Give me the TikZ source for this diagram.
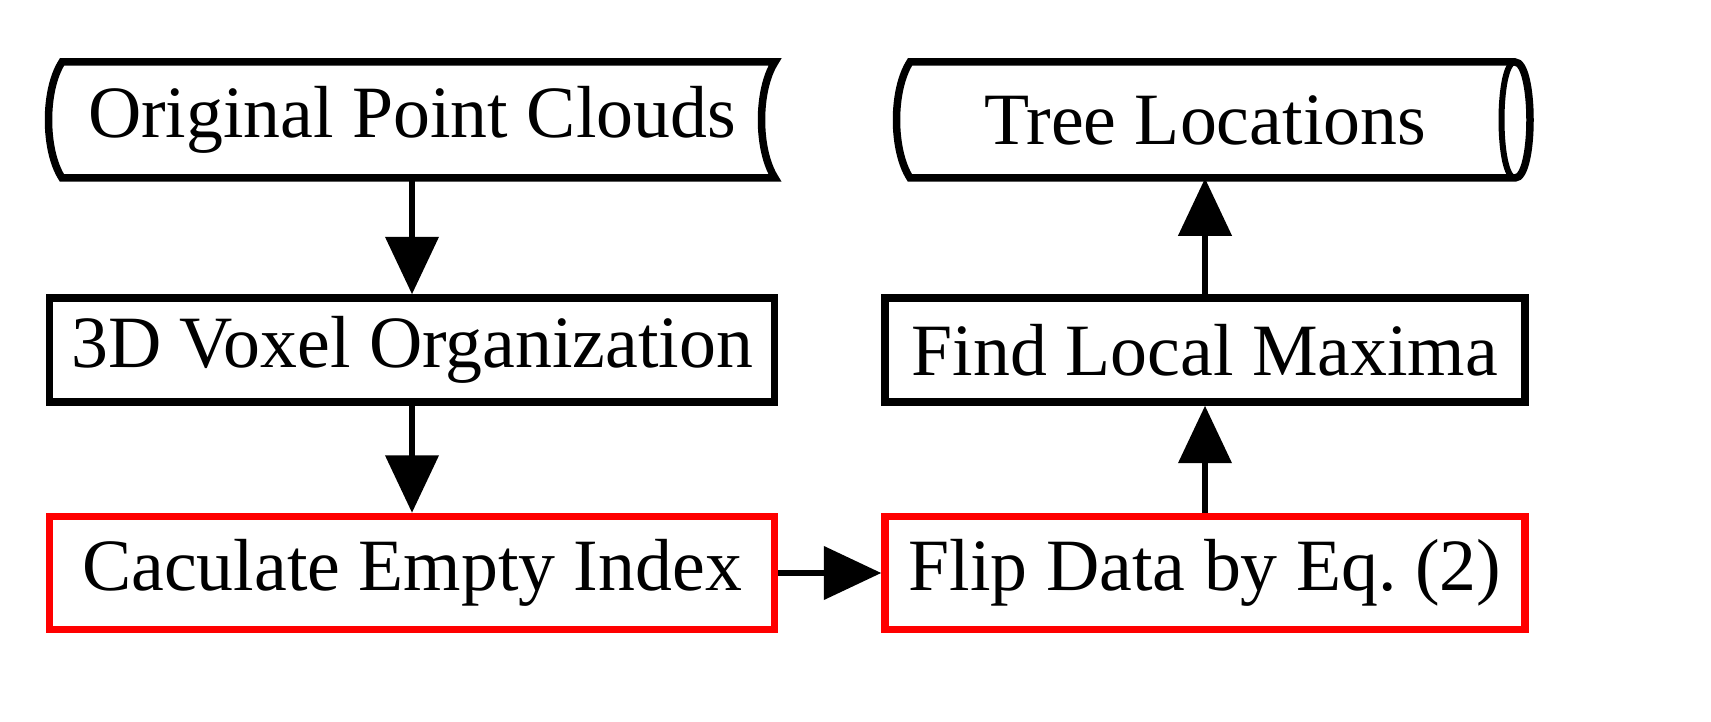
\documentclass[tikz,border=0pt]{standalone}
\usepackage{fontspec}
\setmainfont{Liberation Serif}
\usetikzlibrary{arrows.meta}
\begin{document}
\begin{tikzpicture}[x=0.02cm,y=-0.02cm,
  lbl/.style={font=\fontsize{42}{46}\selectfont, inner sep=0pt},
  boxk/.style={lbl, draw=black, line width=0.15cm, minimum width=14.5cm, minimum height=2.08cm},
  boxr/.style={lbl, draw=red, line width=0.15cm, minimum height=2.26cm},
  conn/.style={line width=0.12cm, -{Triangle[length=1.15cm,width=1.05cm]}}]
% top-left stored data
\node[lbl, minimum width=14.5cm, minimum height=2.32cm] (opc) at (412,120) {Original Point Clouds};
\draw[line width=0.15cm] (62,62) -- (775,62) .. controls (757,90) and (757,150) .. (775,178) -- (62,178) .. controls (44,150) and (44,90) .. (62,62) -- cycle;
% top-right direct access storage
\node[lbl, minimum width=12.6cm, minimum height=2.32cm] (tl) at (1205,120) {Tree Locations};
\draw[line width=0.15cm] (910,62) -- (1515,62) .. controls (1535,62) and (1535,178) .. (1515,178) -- (910,178) .. controls (892,150) and (892,90) .. (910,62) -- cycle;
\draw[line width=0.12cm] (1515,62) .. controls (1497,62) and (1497,178) .. (1515,178);
\node[boxk] (vox) at (412,350) {3D Voxel Organization};
\node[boxk, minimum width=12.8cm] (flm) at (1205,350) {Find Local Maxima};
\node[boxr, minimum width=14.5cm] (cei) at (412,573) {Caculate Empty Index};
\node[boxr, minimum width=12.8cm] (fd) at (1205,573) {Flip Data by Eq.\ (2)};
\draw[conn] (opc.south) -- (vox.north);
\draw[conn] (vox.south) -- (cei.north);
\draw[conn] (cei.east) -- (fd.west);
\draw[conn] (fd.north) -- (flm.south);
\draw[conn] (flm.north) -- (tl.south);
\pgfresetboundingbox
\useasboundingbox (0,0) rectangle (1711,722);
\end{tikzpicture}
\end{document}
